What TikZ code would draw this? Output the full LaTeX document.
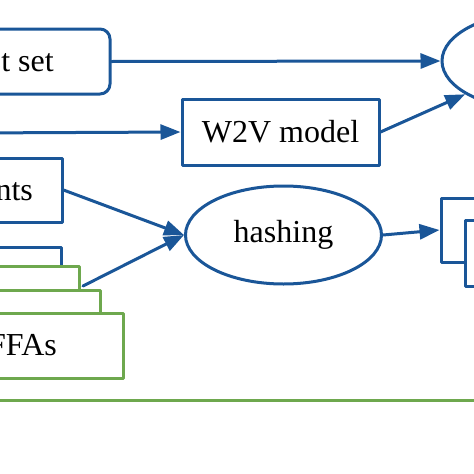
\documentclass[tikz,border=0pt]{standalone}
\usepackage{fontspec}
\setmainfont{Liberation Serif}
\usetikzlibrary{arrows.meta,shapes.geometric}
\definecolor{flowblue}{RGB}{26,86,152}
\definecolor{stackgreen}{RGB}{110,168,78}

\begin{document}
\begin{tikzpicture}[x=1pt, y=-1pt, >={Triangle[length=20pt,width=15pt]}, line cap=round, line join=round,
  box/.style={draw=flowblue, line width=3pt, fill=white, minimum width=197pt, minimum height=66pt, font=\fontsize{32}{38}\selectfont},
  rbox/.style={box, rounded corners=10pt},
  gbox/.style={box, draw=stackgreen, minimum width=201pt, minimum height=65pt},
  oval/.style={ellipse, draw=flowblue, line width=3pt, fill=white, minimum width=196pt, minimum height=98pt, font=\fontsize{32}{38}\selectfont},
  flow/.style={->, draw=flowblue, line width=3pt}]

\useasboundingbox (0,0) rectangle (474,474);
\clip (0,0) rectangle (474,474);

\node[rbox, minimum width=209pt, minimum height=65pt] (test) at (5.5,61.5) {Test set};
\node[oval] (sim) at (540,61) {};
\node[box] (w2v) at (280.5,132) {W2V model};
\node[box, minimum width=204pt, minimum height=64pt] (docs) at (-40,190) {Documents};
% stack of FFAs, back to front
\node[box, minimum width=201pt, minimum height=65pt] (ffa0) at (-39.5,279.5) {};
\node[gbox] (ffa1) at (-21.5,298.5) {};
\node[gbox] (ffa2) at (-0.5,322.5) {};
\node[gbox] (ffa3) at (22.5,345.5) {FFAs};
\node[oval] (hash) at (283.5,235) {hashing};
\node[box, minimum width=200pt, minimum height=64pt] (res1) at (541,230) {};
\node[box, minimum width=200pt, minimum height=66pt] (res2) at (565,253) {};
\coordinate (w2vin) at (-30,133);
\coordinate (ffaout) at (83,286);
\coordinate (gl) at (-30,400);
\coordinate (gr) at (504,400);

\draw[flow] (test.east) -- (sim.west);
\draw[flow] (w2vin) -- (w2v.west);
\draw[flow] (w2v.east) -- (sim);
\draw[flow] (docs.east) -- (hash.west);
\draw[flow] (ffaout) -- (hash.west);
\draw[flow] (hash.east) -- (res1.west);
\draw[stackgreen, line width=3pt] (gl) -- (gr);

\end{tikzpicture}
\end{document}
